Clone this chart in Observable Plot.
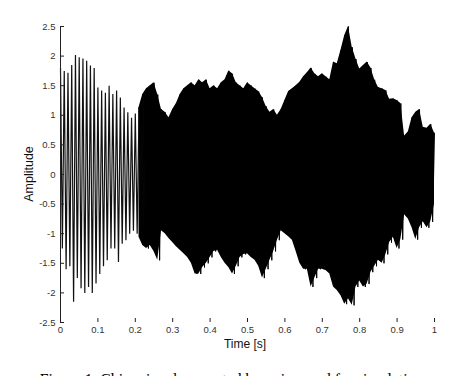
<!DOCTYPE html>
<html>
<head>
<meta charset="utf-8">
<script src="https://cdn.jsdelivr.net/npm/d3@7"></script>
<script src="https://cdn.jsdelivr.net/npm/@observablehq/plot@0.6"></script>
<style>
  html, body { margin: 0; padding: 0; background: #fff; overflow: hidden; }
  #wrap { position: relative; width: 474px; height: 376px; overflow: hidden; }
  #caption { position: absolute; left: 0; top: 372px; width: 463px; text-align: center;
    font-family: "Liberation Serif", "Times New Roman", serif; font-size: 15.7px; line-height: 15px; color: #000; white-space: nowrap; }
</style>
</head>
<body>
<div id="wrap">
  <div id="chart"></div>
  <div id="caption">Figure 1. Chirp signal corrupted by noise used for simulation</div>
</div>
<script>
// sample grid of the read-off envelope (seconds)
const timeStep = 0.01;
const times = d3.range(0, 101).map(i => +(i * timeStep).toFixed(2));
// upper (peak) values, one per time sample
const upper = [
  1.80, 1.75, 1.72, 1.85, 2.02, 1.98, 1.96, 1.92, 1.84, 1.80,
  1.47, 1.42, 1.38, 1.50, 1.36, 1.42, 1.30, 1.13, 1.05, 0.96,
  1.03, 1.13, 1.35, 1.45, 1.50, 1.55, 1.35, 1.10, 1.05, 0.96,
  1.10, 1.20, 1.35, 1.45, 1.50, 1.55, 1.50, 1.60, 1.55, 1.60,
  1.45, 1.50, 1.45, 1.55, 1.60, 1.75, 1.70, 1.55, 1.50, 1.45,
  1.55, 1.50, 1.45, 1.40, 1.30, 1.15, 1.05, 1.10, 1.00, 1.10,
  1.25, 1.40, 1.45, 1.50, 1.56, 1.65, 1.72, 1.80, 1.70, 1.65,
  1.70, 1.65, 1.60, 1.90, 1.87, 2.10, 2.35, 2.50, 2.15, 1.95,
  1.78, 1.84, 1.90, 1.80, 1.60, 1.47, 1.45, 1.42, 1.27, 1.28,
  1.25, 1.20, 0.65, 0.72, 0.96, 1.05, 1.10, 0.80, 0.78, 0.85,
  0.70
];
// lower (trough) values, one per time sample
const lower = [
  -1.25, -1.60, -1.55, -2.15, -1.75, -1.92, -2.00, -1.90, -2.00, -1.84,
  -1.68, -1.55, -1.45, -1.25, -1.25, -1.48, -1.17, -1.11, -1.00, -0.95,
  -1.00, -1.06, -1.20, -1.25, -1.20, -1.30, -1.45, -0.95, -1.00, -1.08,
  -1.15, -1.22, -1.28, -1.34, -1.40, -1.50, -1.68, -1.68, -1.57, -1.50,
  -1.40, -1.30, -1.28, -1.40, -1.50, -1.57, -1.68, -1.55, -1.40, -1.35,
  -1.34, -1.40, -1.45, -1.55, -1.75, -1.60, -1.45, -1.30, -1.11, -0.95,
  -1.00, -1.05, -1.11, -1.30, -1.50, -1.60, -1.60, -1.90, -1.75, -1.60,
  -1.60, -1.62, -1.68, -1.90, -1.96, -2.05, -2.19, -2.10, -2.21, -1.90,
  -1.80, -1.90, -1.85, -1.65, -1.55, -1.45, -1.50, -1.35, -1.15, -1.06,
  -1.25, -1.10, -0.68, -0.75, -0.90, -1.10, -0.90, -0.80, -0.90, -0.80,
  -0.50
];
const xTicks = [0, 0.1, 0.2, 0.3, 0.4, 0.5, 0.6, 0.7, 0.8, 0.9, 1];
const xTickLabels = ["0", "0.1", "0.2", "0.3", "0.4", "0.5", "0.6", "0.7", "0.8", "0.9", "1"];
const yTicks = [2.5, 2, 1.5, 1, 0.5, 0, -0.5, -1, -1.5, -2, -2.5];
const yTickLabels = ["2.5", "2", "1.5", "1", "0.5", "0", "-0.5", "-1", "-1.5", "-2", "-2.5"];
const xLabel = "Time [s]";
const yLabel = "Amplitude";

// zig-zag signal: each sample's peak followed by its trough half a step later
function segment(i0, i1) {
  const out = [];
  for (let i = i0; i <= i1; i++) {
    out.push({t: times[i], v: upper[i]});
    const tt = times[i] + timeStep / 2;
    if (tt <= 1) out.push({t: tt, v: lower[i]});
  }
  return out;
}
const early = segment(0, 22);
const dense = segment(21, 100);
// envelope table for the dense (filled) part
const envelope = times.map((t, i) => ({t, hi: upper[i], lo: lower[i]})).filter(d => d.t >= 0.21);

const chart = Plot.plot({
  width: 474,
  height: 362,
  marginLeft: 60,
  marginRight: 40,
  marginTop: 26,
  marginBottom: 40,
  style: {fontFamily: "'Liberation Sans', Arial, sans-serif", fontSize: "9.5px", color: "#333", background: "#fff"},
  x: {domain: [0, 1]},
  y: {domain: [-2.5, 2.5]},
  marks: [
    Plot.areaY(envelope, {x: "t", y1: "lo", y2: "hi", fill: "#000", curve: "linear"}),
    Plot.line(early, {x: "t", y: "v", stroke: "#111", strokeWidth: 1.2, strokeLinejoin: "miter", curve: "linear"}),
    Plot.line(dense, {x: "t", y: "v", stroke: "#000", strokeWidth: 1, strokeLinejoin: "miter", curve: "linear"}),
    Plot.ruleX([0], {stroke: "#222", strokeWidth: 1}),
    Plot.axisY({ticks: yTicks, tickSize: -4, tickPadding: 9, tickFormat: (d) => yTickLabels[yTicks.indexOf(d)], label: null, stroke: "#222"}),
    Plot.axisX({ticks: xTicks, tickSize: -4, tickPadding: 8, tickFormat: (d) => xTickLabels[xTicks.indexOf(d)], label: null, stroke: "#222"})
  ]
});
document.getElementById("chart").appendChild(chart);

const svg = d3.select(chart);
svg.append("text")
  .attr("transform", "translate(33,174) rotate(-90)")
  .attr("text-anchor", "middle")
  .attr("font-family", "'Liberation Sans', Arial, sans-serif")
  .attr("font-size", "12.5px")
  .attr("fill", "#111")
  .text(yLabel);
svg.append("text")
  .attr("x", 245)
  .attr("y", 348)
  .attr("text-anchor", "middle")
  .attr("font-family", "'Liberation Sans', Arial, sans-serif")
  .attr("font-size", "12px")
  .attr("fill", "#111")
  .text(xLabel);
</script>
</body>
</html>
